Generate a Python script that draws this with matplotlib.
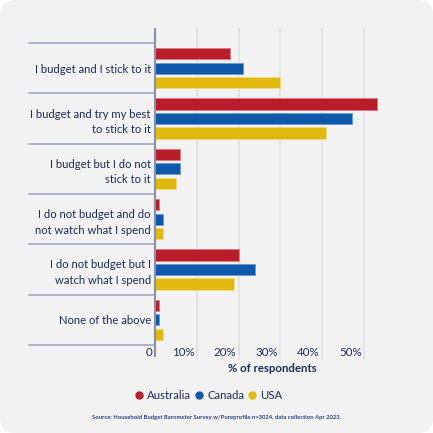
import matplotlib
matplotlib.use("Agg")
import matplotlib.pyplot as plt
from matplotlib.patches import FancyBboxPatch
from matplotlib.lines import Line2D
from matplotlib.transforms import blended_transform_factory
import numpy as np

categories = [
    "I budget and I stick to it",
    "I budget and try my best\nto stick to it",
    "I budget but I do not\nstick to it",
    "I do not budget and do\nnot watch what I spend",
    "I do not budget but I\nwatch what I spend",
    "None of the above",
]
series_names = ["Australia", "Canada", "USA"]
australia = [18, 53, 6, 1, 20, 1]
canada = [21, 47, 6, 2, 24, 1]
usa = [30, 41, 5, 2, 19, 2]
xticks = [0, 10, 20, 30, 40, 50]
xtick_labels = ["0", "10%", "20%", "30%", "40%", "50%"]

colors = ["#b81d2a", "#0e58a9", "#dfb90f"]
edge_colors = ["#e07a84", "#6b9ad6", "#f0da7a"]
navy = "#1c2b57"
grid_c = "#e3e3e6"
axis_c = "#8790a8"

W = H = 433
dpi = 100
fig = plt.figure(figsize=(W / dpi, H / dpi), dpi=dpi, facecolor="white")
plt.rcParams["font.family"] = ["Lato", "DejaVu Sans"]

# card background
card = FancyBboxPatch((0, 0), 1, 1, boxstyle="round,pad=0,rounding_size=0.035",
                      transform=fig.transFigure, facecolor="#f2f2f2", edgecolor="none",
                      zorder=-10)
fig.patches.append(card)

left, right, top, bottom = 155, 385, 29, 345
ax = fig.add_axes([left / W, 1 - bottom / H, (right - left) / W, (bottom - top) / H])
ax.set_facecolor("none")
for s in ax.spines.values():
    s.set_visible(False)

n = len(categories)
y = np.arange(n)
band_px = (bottom - 43) / n
extra = (43 - top) / band_px
ax.set_ylim(n - 0.5, -0.5 - extra)
ax.set_xlim(0, 55)

offs = [-0.286, 0.0, 0.286]
for vals, c, ec, o, name in zip([australia, canada, usa], colors, edge_colors, offs, series_names):
    ax.barh(y + o, vals, height=0.225, color=c, edgecolor=ec, linewidth=0.7, zorder=3, label=name)

# gridlines extended below axis
ext = 14 / (bottom - top)
for v in xticks[1:]:
    ax.axvline(v, ymin=-ext, ymax=1, color=grid_c, lw=1.4, zorder=1, clip_on=False)
ax.axvline(0, ymin=-11 / (bottom - top), ymax=1, color=axis_c, lw=1.5, zorder=4, clip_on=False)

# category separators
tr = blended_transform_factory(ax.transAxes, ax.transData)
x0 = (29 - left) / (right - left)
for b in np.arange(n + 1) - 0.5:
    ax.plot([x0, 0], [b, b], transform=tr, color="#9ba3b9", lw=1.1, clip_on=False, zorder=2)

ax.set_yticks(y)
ax.set_yticklabels(categories, fontsize=8.15, color=navy, linespacing=1.5, ha="right")
ax.tick_params(axis="y", length=0, pad=3)
ax.set_xticks([])

for v, lab in zip(xticks, xtick_labels):
    ax.annotate(lab, xy=(v, 0), xycoords=("data", "axes fraction"),
                xytext=(-2.5, -8), textcoords="offset pixels",
                ha="right", va="center", fontsize=8.3, color=navy, annotation_clip=False)

fig.text(272.5 / W, 1 - 369 / H, "% of respondents", ha="center", va="center",
         fontsize=8.2, fontweight="bold", color=navy)

handles = [Line2D([], [], marker="o", linestyle="none", markersize=5,
                  markerfacecolor=c, markeredgecolor=c) for c in colors]
fig.legend(handles, series_names, loc="center", bbox_to_anchor=(208.5 / W, 1 - 395.7 / H),
           ncol=3, frameon=False, fontsize=8.2, handletextpad=0.4, columnspacing=0.3,
           handlelength=0.7, labelcolor=navy, borderaxespad=0, borderpad=0)

fig.text(216 / W, 1 - 417.7 / H,
         "Source: Household Budget Barometer Survey w/Pureprofile n=3024, data collection Apr 2023.",
         ha="center", va="center", fontsize=4.25, fontweight="bold", color="#2e3b8a")

fig.savefig("out.png", dpi=dpi, facecolor="white")
